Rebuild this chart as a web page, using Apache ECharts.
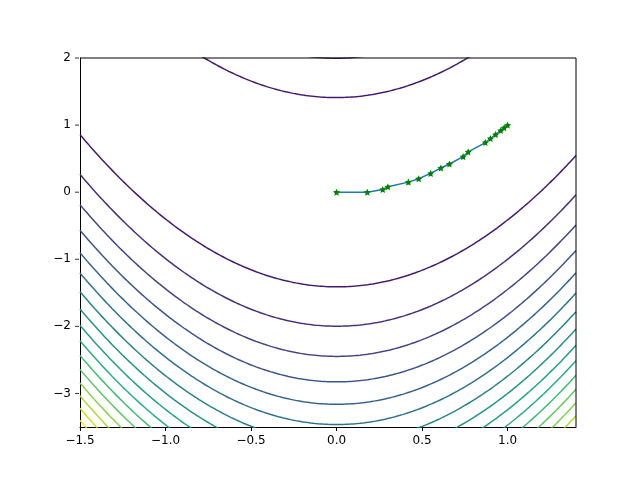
<!DOCTYPE html>
<html><head><meta charset="utf-8">
<script src="https://cdn.jsdelivr.net/npm/echarts@6/dist/echarts.min.js"></script>
<style>html,body{margin:0;background:#fff}#c{width:640px;height:480px}</style>
</head><body><div id="c"></div>
<script>
// contour levels of the Rosenbrock function
const levels = [200, 400, 600, 800, 1000, 1200, 1400, 1600, 1800, 2000, 2200, 2400, 2600, 2800, 3000, 3200];
const levelColors = ['#46186f', '#472f7d', '#414487', '#3a548c', '#33638d', '#2c728e', '#26828e', '#21918c', '#1fa088', '#28ae80', '#3fbc73', '#5ec962', '#84d44b', '#addc30', '#d8e219', '#fde725'];
// optimizer path
const pathX = [0, 0.18, 0.27, 0.30, 0.42, 0.48, 0.55, 0.61, 0.66, 0.74, 0.77, 0.87, 0.90, 0.93, 0.96, 0.98, 1.0];
const pathY = [0, 0, 0.04, 0.08, 0.15, 0.20, 0.28, 0.36, 0.42, 0.53, 0.60, 0.74, 0.80, 0.86, 0.92, 0.96, 1.0];
const yTicks = [-3, -2, -1, 0, 1, 2];

const fmt = v => (v < 0 ? '\u2212' : '') + Math.abs(v).toFixed(1);
const series = [];
levels.forEach((L, i) => {
  [1, -1].forEach(sgn => {
    const pts = [];
    for (let k = 0; k <= 600; k++) {
      const x = -1.5 + 2.9 * k / 600;
      const r = L - (1 - x) * (1 - x);
      if (r < 0) continue;
      pts.push([x, x * x + sgn * Math.sqrt(r / 100)]);
    }
    series.push({type: 'line', data: pts, showSymbol: false, silent: true,
      lineStyle: {color: levelColors[i], width: 1.5}, clip: true});
  });
});
series.push({type: 'line', data: pathX.map((x, i) => [x, pathY[i]]), symbol: 'path://M0,-10L2.9,-4L9.5,-3.1L4.7,1.5L5.9,8.1L0,5L-5.9,8.1L-4.7,1.5L-9.5,-3.1L-2.9,-4Z',
  symbolSize: 7, lineStyle: {color: '#1f77b4', width: 1.5}, itemStyle: {color: '#008000'}, z: 5});
series.push({type: 'scatter', data: yTicks.map(y => [-1.5, y]), symbol: 'rect', symbolSize: [4, 1],
  symbolOffset: [-3, 0], itemStyle: {color: '#000'}, silent: true, clip: false});

const chart = echarts.init(document.getElementById('c'));
chart.setOption({
  animation: false,
  grid: {left: 80, right: 64, top: 58, bottom: 53},
  xAxis: {type: 'value', min: -1.5, max: 1.4, interval: 0.5,
    axisLine: {onZero: false, lineStyle: {color: '#000'}}, splitLine: {show: false},
    axisTick: {show: true, length: 4, lineStyle: {color: '#000'}},
    axisLabel: {formatter: fmt, color: '#000', fontSize: 12, fontFamily: 'DejaVu Sans', showMaxLabel: false}},
  yAxis: {type: 'value', min: -3.5, max: 2, interval: 0.5,
    axisLine: {show: true, onZero: false, lineStyle: {color: '#000'}}, splitLine: {show: false},
    axisTick: {show: false},
    axisLabel: {formatter: v => Number.isInteger(v) ? (v < 0 ? '\u2212' : '') + Math.abs(v) : '',
      color: '#000', fontSize: 12, fontFamily: 'DejaVu Sans', margin: 9}},
  series: series.concat([
    {type: 'line', data: [[-1.5, 2], [1.4, 2], [1.4, -3.5]], showSymbol: false, silent: true,
      lineStyle: {color: '#000', width: 1}, clip: false}
  ])
});
</script></body></html>
